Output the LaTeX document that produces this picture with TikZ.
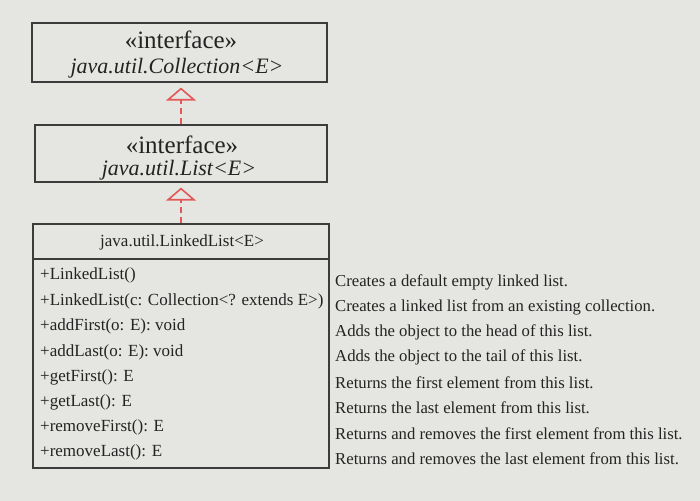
\documentclass[tikz,border=0pt]{standalone}
\usepackage{fontspec}
\setmainfont{Liberation Serif}
\usetikzlibrary{arrows.meta}
\definecolor{bg}{RGB}{229,229,225}
\definecolor{ink}{RGB}{35,35,35}
\definecolor{frame}{RGB}{60,60,60}
\definecolor{implred}{RGB}{226,88,88}
\begin{document}
\begin{tikzpicture}[x=1bp,y=-1bp,
  box/.style={draw=frame,line width=1.2bp,inner sep=0pt},
  big/.style={text=ink,inner sep=0pt,font=\fontsize{22bp}{26bp}\selectfont},
  stereo/.style={text=ink,inner sep=0pt,font=\fontsize{25bp}{28bp}\selectfont},
  small/.style={text=ink,inner sep=0pt,anchor=west,font=\fontsize{17bp}{20bp}\selectfont},
  desc/.style={text=ink,inner sep=0pt,anchor=west,font=\fontsize{16.7bp}{20bp}\selectfont},
  impl/.style={draw=implred,line width=1.6bp,dash pattern=on 6bp off 4bp,
    -{Triangle[open,width=30bp,length=13bp,line width=1.6bp]},shorten >=5bp}]
\fill[bg] (0,0) rectangle (700,501);
\useasboundingbox (0,0) rectangle (700,501);
% Collection
\node[box,minimum width=295bp,minimum height=59bp] (coll) at (179.5,52.5) {};
\node[stereo] (collA) at (181,40) {«interface»};
\node[big] (collB) at (177,68) {\itshape java.util.Collection<E>};
% List
\node[box,minimum width=292bp,minimum height=57bp] (list) at (181,153.5) {};
\node[stereo] (listA) at (182,145) {«interface»};
\node[big] (listB) at (179,170) {\itshape java.util.List<E>};
% LinkedList
\node[box,minimum width=296bp,minimum height=35bp] (hdr) at (181,241.5) {};
\node[box,minimum width=296bp,minimum height=209bp] (body) at (181,363.5) {};
\node[text=ink,inner sep=0pt,font=\fontsize{17bp}{20bp}\selectfont] (hdrT) at (182,242) {java.util.LinkedList<E>};
% arrows
\draw[impl] (list.north) -- (list.north |- coll.south);
\draw[impl] (hdr.north) -- (hdr.north |- list.south);
% methods
\node[small] (m1) at (40,275) {+LinkedList()};
\node[small] (m2) at (40,301) {+LinkedList(c: Collection<? extends E>)};
\node[small] (m3) at (40,326.5) {+addFirst(o: E): void};
\node[small] (m4) at (40,352) {+addLast(o: E): void};
\node[small] (m5) at (40,377.5) {+getFirst(): E};
\node[small] (m6) at (40,402.5) {+getLast(): E};
\node[small] (m7) at (40,427.5) {+removeFirst(): E};
\node[small] (m8) at (40,452.5) {+removeLast(): E};
% descriptions
\node[desc] (d1) at (335,282) {Creates a default empty linked list.};
\node[desc] (d2) at (335,307.5) {Creates a linked list from an existing collection.};
\node[desc] (d3) at (335,332.5) {Adds the object to the head of this list.};
\node[desc] (d4) at (335,357.5) {Adds the object to the tail of this list.};
\node[desc] (d5) at (335,383) {Returns the first element from this list.};
\node[desc] (d6) at (335,408) {Returns the last element from this list.};
\node[desc] (d7) at (335,433.5) {Returns and removes the first element from this list.};
\node[desc] (d8) at (335,459) {Returns and removes the last element from this list.};
\end{tikzpicture}
\end{document}
